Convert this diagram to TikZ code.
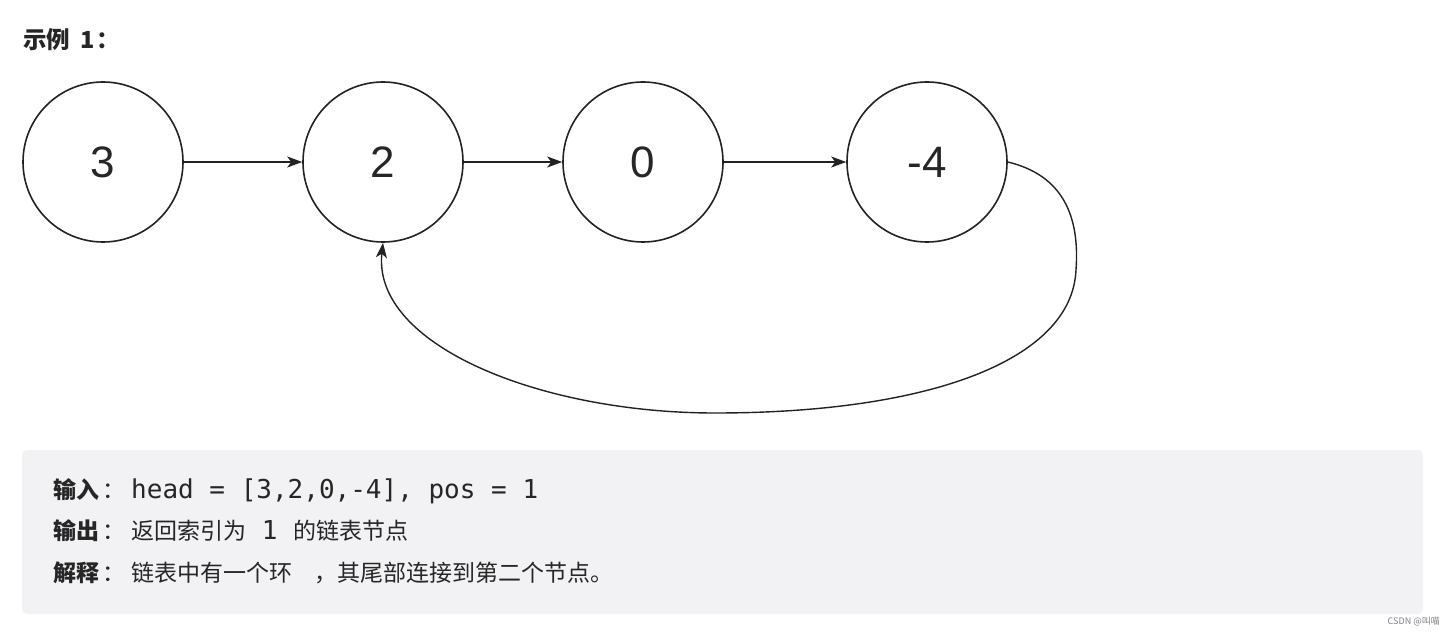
\documentclass[tikz,border=0pt]{standalone}
\usepackage{fontspec}
\setmainfont{Liberation Sans}
\newfontfamily\cjk{Noto Sans CJK SC}
\newfontfamily\mono{DejaVu Sans Mono}
\usetikzlibrary{arrows.meta}
\definecolor{boxbg}{HTML}{F2F2F4}
\definecolor{ink}{HTML}{222222}
\definecolor{txt}{HTML}{262626}
\newcommand{\lbl}[1]{\makebox[78pt][l]{{\bfseries #1}\hspace{3pt}：}}
\newcommand{\code}[1]{{\mono\fontsize{26}{26}\selectfont #1}}
\begin{document}
\begin{tikzpicture}[x=1pt,y=-1pt,
  listnode/.style={circle,draw=ink,line width=1.6pt,minimum size=160pt,inner sep=0pt,
    font=\fontsize{44}{44}\selectfont,text=txt},
  link/.style={draw=ink,line width=1.4pt,-{Stealth[length=15pt,width=11pt,inset=4pt]}},
  line/.style={anchor=base west,inner sep=0pt,text=txt,font=\cjk\fontsize{23}{23}\selectfont},
]
\useasboundingbox (0,0) rectangle (1454,636);
\node[line,font=\cjk\bfseries\fontsize{23.5}{23.5}\selectfont] (title) at (23,49) {示例\hspace{10pt}1\hspace{2pt}：};
\node[listnode] (n3) at (103,162) {3};
\node[listnode] (n2) at (383,162) {2};
\node[listnode] (n0) at (643,162) {0};
\node[listnode] (n4) at (927,162) {-4};
\draw[link] (n3) -- (n2);
\draw[link] (n2) -- (n0);
\draw[link] (n0) -- (n4);
\coordinate (c1) at (1076,270);
\coordinate (c2) at (715,413);
\draw[link] (n4.east) .. controls (1062,175) and (1080,215) .. (c1)
  .. controls (1072,360) and (930,413) .. (c2)
  .. controls (540,413) and (372,345) .. (n2.south);
\fill[boxbg,rounded corners=5pt] (22,450) rectangle (1423,614);
\node[line] (l1) at (53,498) {\lbl{输入}\code{head = [3,2,0,-4], pos = 1}};
\node[line] (l2) at (53,539) {\lbl{输出}返回索引为\code{\ 1\ }的链表节点};
\node[line] (l3) at (53,581) {\lbl{解释}链表中有一个环\hspace{22pt}，其尾部连接到第二个节点。};
\node[anchor=base east,inner sep=0pt,text=gray,font=\cjk\fontsize{9}{9}\selectfont] (wm) at (1440,624) {CSDN @叫喵};
\end{tikzpicture}
\end{document}
